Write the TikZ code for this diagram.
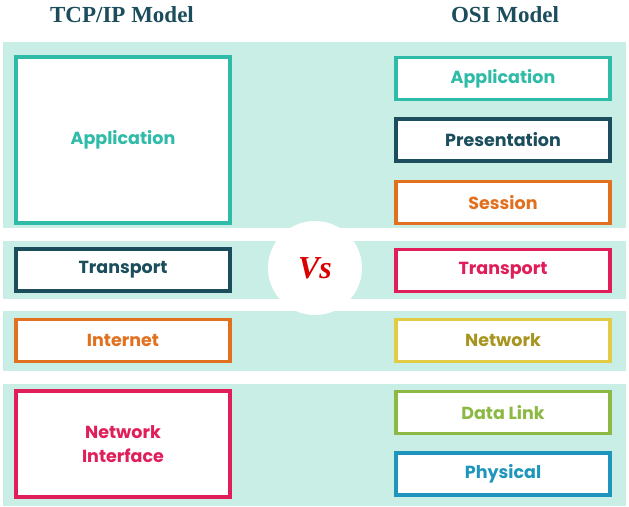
\documentclass[tikz,border=0pt]{standalone}
\usepackage{fontspec}
\setmainfont{Poppins}
\newfontfamily\titlefont{Liberation Serif}
\begin{document}
\begin{tikzpicture}[x=1pt,y=-1pt]
\definecolor{band}{HTML}{C9EEE6}
\definecolor{cteal}{HTML}{2EBBA7}
\definecolor{cdark}{HTML}{1B4D5C}
\definecolor{corange}{HTML}{E2711F}
\definecolor{cred}{HTML}{E01E5A}
\definecolor{cyel}{HTML}{E2CB45}
\definecolor{colive}{HTML}{A8951F}
\definecolor{cgreen}{HTML}{8CB943}
\definecolor{cblue}{HTML}{1E95BC}
\tikzset{lay/.style={draw=#1,line width=3.4pt,fill=white,text=#1,font=\bfseries\fontsize{17.5}{24}\selectfont,align=center},
 ttl/.style={font=\titlefont\bfseries\fontsize{23}{25}\selectfont,text=cdark}}
\useasboundingbox (0,0) rectangle (629,506);
\fill[band] (3,42) rectangle (626,228);
\fill[band] (3,241) rectangle (626,299);
\fill[band] (3,311) rectangle (626,371);
\fill[band] (3,384) rectangle (626,506);
\node[ttl] (t1) at (122,15) {TCP/IP Model};
\node[ttl] (t2) at (505,15) {OSI Model};
\node[lay=cteal,minimum width=214,minimum height=166] (la) at (123,140) {Application};
\node[lay=cdark,minimum width=214,minimum height=42] (lt) at (123,270) {Transport};
\node[lay=corange,minimum width=214,minimum height=42] (li) at (123,340.5) {Internet};
\node[lay=cred,minimum width=214,minimum height=106] (ln) at (123,444) {Network\\Interface};
\node[lay=cteal,minimum width=214,minimum height=42] (ra) at (503,78.5) {Application};
\node[lay=cdark,minimum width=214,minimum height=42] (rp) at (503,140) {Presentation};
\node[lay=corange,minimum width=214,minimum height=42] (rs) at (503,202.5) {Session};
\node[lay=cred,minimum width=214,minimum height=42] (rt) at (503,270.5) {Transport};
\node[lay=cyel,text=colive,minimum width=214,minimum height=42] (rn) at (503,340.5) {Network};
\node[lay=cgreen,minimum width=214,minimum height=42] (rd) at (503,412.5) {Data Link};
\node[lay=cblue,minimum width=214,minimum height=42] (rph) at (503,474) {Physical};
\node[circle,fill=white,minimum size=94,text=red!85!black,font=\titlefont\bfseries\itshape\fontsize{32}{34}\selectfont] (vs) at (315,268) {Vs};
\end{tikzpicture}
\end{document}
